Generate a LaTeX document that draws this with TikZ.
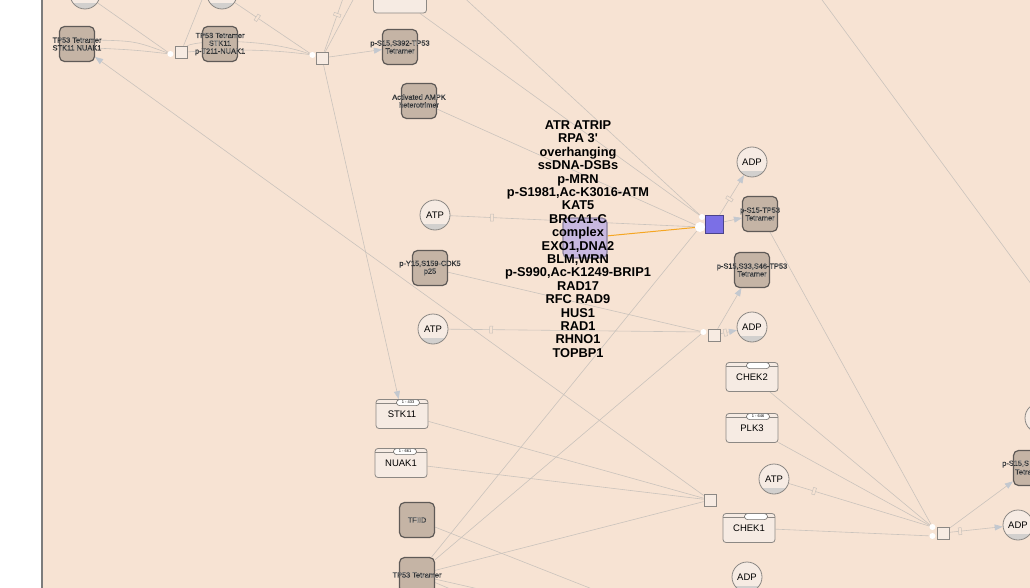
\documentclass[tikz,border=0pt]{standalone}
\usepackage{fontspec}
\setmainfont{Liberation Sans}
\usetikzlibrary{arrows.meta, positioning, backgrounds}
\definecolor{pagebg}{RGB}{247, 227, 211}
\definecolor{frameline}{RGB}{125, 125, 125}
\definecolor{cplxfill}{RGB}{197, 180, 165}
\definecolor{cplxline}{RGB}{95, 90, 87}
\definecolor{entfill}{RGB}{246, 235, 227}
\definecolor{entline}{RGB}{140, 136, 132}
\definecolor{chembot}{RGB}{210, 208, 206}
\definecolor{procfill}{RGB}{247, 235, 226}
\definecolor{procblue}{RGB}{123, 111, 230}
\definecolor{linkgray}{RGB}{202, 195, 188}
\definecolor{tipgray}{RGB}{195, 200, 207}
\definecolor{orangeln}{RGB}{245, 166, 35}
\definecolor{lavender}{RGB}{200, 184, 224}
% white letters with a dark rim
\newcommand{\halo}[1]{{\color{white}\special{pdf:literal direct 2 Tr 0.3 w 0.22 0.22 0.22 RG}#1\special{pdf:literal direct 0 Tr}}}

\begin{document}
\begin{tikzpicture}[x=1pt, y=-1pt,
    cplx/.style={rectangle, draw=cplxline, fill=cplxfill, rounded corners=5pt,
                 line width=1.2pt, minimum width=35pt, minimum height=35pt, inner sep=0pt},
    clbl/.style={font=\fontsize{7.4}{7.8}\selectfont, align=center, inner sep=0pt},
    ent/.style={rectangle, draw=entline, fill=entfill, rounded corners=3pt, line width=0.8pt,
                minimum width=52pt, minimum height=29pt, inner sep=0pt, font=\fontsize{9.5}{10}\selectfont,
                path picture={\draw[entline, line width=0.5pt]
                    ([yshift=-4pt]path picture bounding box.north west) --
                    ([yshift=-4pt]path picture bounding box.north east);}},
    tag/.style={rectangle, draw=entline!80!black, fill=white, rounded corners=3pt, line width=0.6pt,
                minimum width=23pt, minimum height=6pt, inner sep=0pt, font=\fontsize{4}{4}\selectfont},
    chem/.style={circle, draw=entline, fill=entfill, line width=0.8pt, minimum size=30pt,
                 inner sep=0pt, font=\fontsize{9.5}{10}\selectfont,
                 path picture={\fill[chembot] (path picture bounding box.south west)
                    rectangle ([yshift=6pt]path picture bounding box.south east);}},
    proc/.style={rectangle, draw=entline, fill=procfill, line width=0.7pt, minimum size=12pt, inner sep=0pt},
    port/.style={circle, fill=white, minimum size=6pt, inner sep=0pt},
    link/.style={draw=linkgray, line width=0.6pt},
    prod/.style={link, -{Triangle[length=8pt, width=6pt, color=tipgray]}},
    stoich/.style={rectangle, draw=linkgray, fill=pagebg, line width=0.5pt, minimum width=3pt,
                   minimum height=7pt, inner sep=0pt, sloped},
    biglbl/.style={font=\fontsize{12.8}{13.4}\selectfont\bfseries, align=center, inner sep=0pt}
]
    \useasboundingbox (0,0) rectangle (1030,588);

    % complexes
    \node[cplx, label={[clbl]center:{\halo{TP53 Tetramer}\\\halo{STK11 NUAK1}}}] (tsn) at (77,44) {};
    \node[cplx, label={[clbl]center:{\halo{TP53 Tetramer}\\\halo{STK11}\\\halo{p-T211-NUAK1}}}] (tsp) at (220,44) {};
    \node[cplx, label={[clbl]center:{\halo{p-S15,S392-TP53}\\\halo{Tetramer}}}] (ps392) at (400,47) {};
    \node[cplx, label={[clbl]center:{\halo{Activated AMPK}\\\halo{heterotrimer}}}] (ampk) at (419,101) {};
    \node[cplx, label={[clbl]center:{\halo{p-Y15,S159-CDK5}\\\halo{p25}}}] (cdk5) at (430,268) {};
    \node[cplx, label={[clbl]center:{\halo{p-S15-TP53}\\\halo{Tetramer}}}] (ps15) at (760,214) {};
    \node[cplx, label={[clbl]center:{\halo{p-S15,S33,S46-TP53}\\\halo{Tetramer}}}] (ps46) at (752,270) {};
    \node[cplx, label={[clbl]center:{\halo{TFIID}}}] (tfiid) at (417,520) {};
    \node[cplx, label={[clbl]center:{\halo{TP53 Tetramer}}}] (tp53) at (417,575) {};
    \node[cplx] (psx) at (1031,468) {};
    \node[clbl, anchor=west] (psxlbl1) at (1002,464) {\halo{p-S15,S}};
    \node[clbl, anchor=west] (psxlbl2) at (1015,472) {\halo{Tetramer}};
    \node[cplx, fill=lavender, draw=lavender!70!black, minimum width=44pt, minimum height=40pt] (atrcplx) at (585,238) {};

    % proteins
    \node[ent, minimum width=53pt, minimum height=28pt] (topbox) at (400,-1) {};
    \node[ent] (stk) at (402,414) {STK11};
    \node[tag, xshift=6pt, yshift=-3.5pt] (stktag) at (stk.north) {1 - 433};
    \node[ent] (nuak) at (401,463) {NUAK1};
    \node[tag, xshift=4pt, yshift=-3.5pt] (nuaktag) at (nuak.north) {1 - 661};
    \node[ent] (chek2) at (752,377) {CHEK2};
    \node[tag, xshift=6pt, yshift=-3.5pt] (chek2tag) at (chek2.north) {};
    \node[ent] (plk3) at (752,428) {PLK3};
    \node[tag, xshift=6pt, yshift=-3.5pt] (plk3tag) at (plk3.north) {1 - 646};
    \node[ent] (chek1) at (749,528) {CHEK1};
    \node[tag, xshift=7pt, yshift=-3.5pt] (chek1tag) at (chek1.north) {};

    % small molecules
    \node[chem] (topc1) at (85,-6) {};
    \node[chem] (topc2) at (222,-6) {};
    \node[chem] (atp1) at (435,215) {ATP};
    \node[chem] (atp2) at (433,329) {ATP};
    \node[chem] (adp1) at (752,162) {ADP};
    \node[chem] (adp2) at (752,327) {ADP};
    \node[chem] (atp3) at (774,479) {ATP};
    \node[chem] (adp3) at (747,577) {ADP};
    \node[chem] (adp4) at (1018,525) {ADP};
    \node[chem] (edgec) at (1040,418) {};

    % reactions
    \node[proc] (p1) at (181,52) {};
    \node[port, left=1pt of p1, yshift=-2pt] (p1in) {};
    \node[proc] (p2) at (322,58) {};
    \node[port, left=0pt of p2, yshift=3pt] (p2in) {};
    \node[proc, fill=procblue, draw=procblue!60!black, minimum size=18pt] (p3) at (714,224) {};
    \node[port, minimum size=10pt] (p3in) at (700,227) {};
    \node[port] (p3in2) at (702,217) {};
    \node[proc] (p4) at (714,335) {};
    \node[port, left=1pt of p4, yshift=3pt] (p4in) {};
    \node[proc] (p5) at (710,500) {};
    \node[proc] (p6) at (943,533) {};
    \node[port, left=1pt of p6, yshift=6pt] (p6in) {};
    \node[port, left=1pt of p6, yshift=-3pt] (p6in2) {};

    \coordinate (offtop1) at (214,-30);
    \coordinate (offtop2) at (353,-30);
    \coordinate (offtop3) at (369,-30);
    \coordinate (offtop4) at (445,-20);
    \coordinate (offne) at (800,-30);
    \coordinate (offe) at (1065,330);
    \coordinate (offs1) at (747,650);
    \coordinate (offs2) at (596,650);

    \begin{scope}[on background layer]
        \fill[white] (0,0) rectangle (1030,588);
        \fill[pagebg] (42,0) rectangle (1030,588);
        \draw[frameline, line width=2pt] (42,-5) -- (42,593);

        \draw[link] (topc1) -- (p1in);
        \draw[link] (p1) -- (offtop1);
        \draw[link] ([yshift=4pt]tsn.east) .. controls (135,41) .. (p1in);
        \draw[link] ([yshift=-4pt]tsn.east) .. controls (135,50) .. (p1in);
        \draw[link] (p1.north east) .. controls (200,40) and (265,38) .. (p2in);
        \draw[link] (p1.east) .. controls (220,49) and (270,49) .. (p2in);
        \draw[link] (topc2) -- node[stoich, pos=0.3] {} (p2in);
        \draw[link] (p2) -- node[stoich, pos=0.45] {} (offtop2);
        \draw[link] (p2) -- (offtop3);
        \draw[prod] (p2) -- (ps392);
        \draw[prod] (p2) -- (stk);
        \draw[prod] (p5) -- (tsn);

        \draw[link] (offtop4) -- (p3in2);
        \draw[link] (topbox) -- (p3in2);
        \draw[link] (ampk) -- (p3in);
        \draw[link] (atp1) -- node[stoich, pos=0.17] {} (p3in);
        \draw[link] (tp53) -- (p3in);
        \draw[orangeln, line width=1pt] (atrcplx) -- (p3in);
        \draw[prod] (p3) -- node[stoich, pos=0.4] {} (adp1);
        \draw[prod] (p3) -- (ps15);
        \draw[link] (ps15) -- (p6in);

        \draw[link] (cdk5) -- (p4in);
        \draw[link] (atp2) -- node[stoich, pos=0.17] {} (p4in);
        \draw[link] (tp53) -- (p4in);
        \draw[prod] (p4) -- node[stoich, pos=0.3] {} (adp2);
        \draw[prod] (p4) -- (ps46);

        \draw[link] (stk) -- (p5);
        \draw[link] (nuak) -- (p5);
        \draw[link] (tp53) -- (p5);

        \draw[link] (chek2) -- (p6in);
        \draw[link] (plk3) -- (p6in);
        \draw[link] (atp3) -- node[stoich, pos=0.18] {} (p6in);
        \draw[link] (chek1) -- (p6in2);
        \draw[prod] (p6) -- (psx);
        \draw[prod] (p6) -- node[stoich, pos=0.2] {} (adp4);

        \draw[link] (offne) -- (offe);
        \draw[link] (tfiid) -- (offs1);
        \draw[link] (tp53) -- (offs1);
        \draw[link] (tp53) -- (offs2);
    \end{scope}

    \node[biglbl] (atrlbl) at (578,239) {ATR ATRIP\\RPA 3\textquotesingle\\overhanging\\ssDNA-DSBs\\p-MRN\\
        p-S1981,Ac-K3016-ATM\\KAT5\\BRCA1-C\\complex\\EXO1,DNA2\\BLM,WRN\\
        p-S990,Ac-K1249-BRIP1\\RAD17\\RFC RAD9\\HUS1\\RAD1\\RHNO1\\TOPBP1};
\end{tikzpicture}
\end{document}
